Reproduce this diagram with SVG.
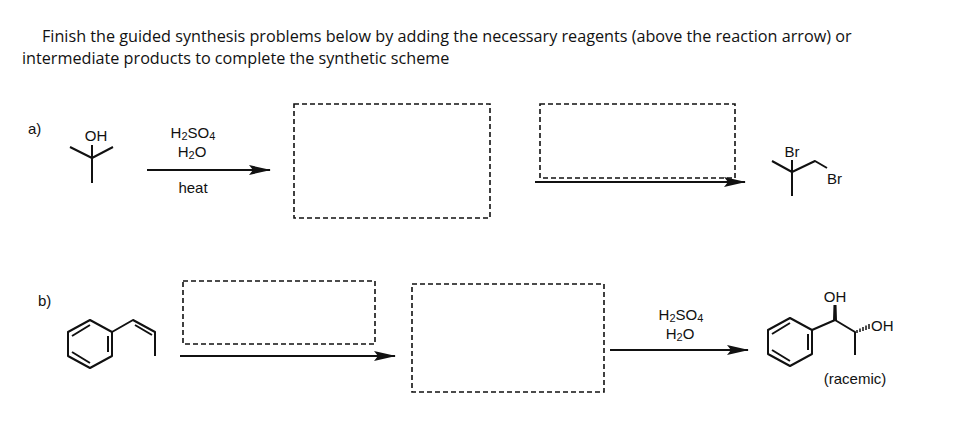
<svg xmlns="http://www.w3.org/2000/svg" width="956" height="446" viewBox="0 0 956 446">
<style>
.t{font-family:"Open Sans","Liberation Sans",sans-serif;font-size:16.2px;fill:#111}
.c{font-family:"Liberation Sans",Arial,sans-serif;font-size:15px;fill:#111}
.b{stroke:#111;stroke-width:2;fill:none;stroke-linejoin:round}
.box{stroke:#111;stroke-width:1.6;fill:none;stroke-dasharray:5,3}
.ar{stroke:#111;stroke-width:2;fill:none}
</style>
<defs><marker id="ah" markerWidth="22" markerHeight="10" refX="21" refY="5" orient="auto" markerUnits="userSpaceOnUse"><path d="M0,0 L22,5 L0,10 L4,5 Z" fill="#111"/></marker></defs>
<rect width="956" height="446" fill="#fff"/>
<text class="t" x="42" y="42">Finish the guided synthesis problems below by adding the necessary reagents (above the reaction arrow) or</text>
<text class="t" x="22" y="64">intermediate products to complete the synthetic scheme</text>
<text class="c" x="28" y="134">a)</text>
<text class="c" x="38" y="306">b)</text>
<g id="tBuOH">
<path class="b" d="M70,147 L92,158 L113,147 M92,158 L92,183 M92,158 L92,145"/>
<text class="c" x="96" y="141" text-anchor="middle">OH</text>
</g>
<g id="reagents-a">
<text class="c" x="193" y="138" text-anchor="middle">H<tspan font-size="11" dy="2">2</tspan><tspan dy="-2">SO</tspan><tspan font-size="11" dy="2">4</tspan></text>
<text class="c" x="192" y="157" text-anchor="middle">H<tspan font-size="11" dy="2">2</tspan><tspan dy="-2">O</tspan></text>
<text class="c" x="193" y="193" text-anchor="middle">heat</text>
</g>
<g id="box-a1"><rect class="box" x="294" y="104" width="196" height="114"/></g>
<g id="box-a2"><rect class="box" x="540" y="104" width="195" height="74"/></g>
<g id="dibromide">
<path class="b" d="M772,161 L792,172 L815,161 L827,168 M792,172 L792,196 M792,172 L792,160"/>
<text class="c" x="792" y="157" text-anchor="middle">Br</text>
<text class="c" x="827" y="184">Br</text>
</g>
<g id="styrene">
<path class="b" d="M90,320 L112,332 L112,356 L90,368 L68,356 L68,332 Z M108,336 L108,352 M90,363 L72,352 M72,336 L90,325"/>
<path class="b" d="M112,332 L133,320 L155,332 L155,356 M135,325 L152,335"/>
</g>
<g id="box-b1"><rect class="box" x="183" y="281" width="192" height="63"/></g>
<g id="box-b2"><rect class="box" x="412" y="284" width="192" height="108"/></g>
<g id="reagents-b">
<text class="c" x="681" y="320" text-anchor="middle">H<tspan font-size="11" dy="2">2</tspan><tspan dy="-2">SO</tspan><tspan font-size="11" dy="2">4</tspan></text>
<text class="c" x="680" y="339" text-anchor="middle">H<tspan font-size="11" dy="2">2</tspan><tspan dy="-2">O</tspan></text>
</g>
<g id="diol">
<path class="b" d="M790,318 L812,330 L812,354 L790,366 L768,354 L768,330 Z M808,334 L808,350 M790,361 L772,350 M772,334 L790,323"/>
<path class="b" d="M812,330 L835,320 L855,332 L855,355"/>
<path d="M833,320 L837,320 L836.5,305 L833.5,305 Z" fill="#111"/>
<path stroke="#111" stroke-width="1.5" d="M857,330 L857,333 M860,328.5 L860,332 M863,327 L863,331 M866,325.5 L866,330 M869,324 L869,329"/>
<text class="c" x="835" y="302" text-anchor="middle">OH</text>
<text class="c" x="871" y="331">OH</text>
<text class="c" x="855" y="384" text-anchor="middle">(racemic)</text>
</g>
<g id="connectors">
<line class="ar" x1="147" y1="170" x2="270" y2="170" marker-end="url(#ah)"/>
<line class="ar" x1="535" y1="182" x2="745" y2="182" marker-end="url(#ah)"/>
<line class="ar" x1="180" y1="356" x2="395" y2="356" marker-end="url(#ah)"/>
<line class="ar" x1="610" y1="350" x2="748" y2="350" marker-end="url(#ah)"/>
</g>
</svg>
